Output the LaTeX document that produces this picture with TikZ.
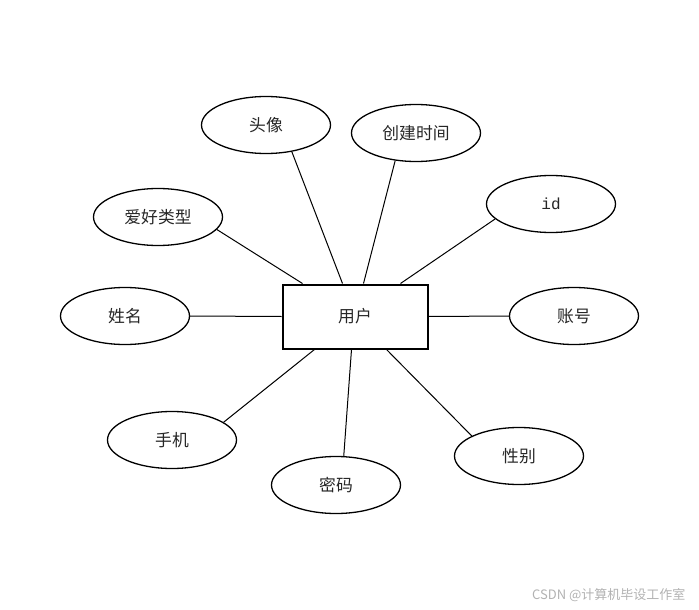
\documentclass[tikz,border=0pt]{standalone}
\usepackage{fontspec}
\newfontfamily\cjk{Noto Sans CJK SC}
\newfontfamily\monofont{Liberation Mono}
\usetikzlibrary{shapes.geometric,calc}
\begin{document}
\begin{tikzpicture}[x=1pt,y=-1pt,
        attr/.style={draw,ellipse,line width=1.3pt,minimum width=129pt,minimum height=57pt,inner sep=0pt,font=\cjk\fontsize{16.8}{18}\selectfont,text=black!85},
        entity/.style={draw,rectangle,line width=2pt,minimum width=145pt,minimum height=64pt,font=\cjk\fontsize{16.8}{18}\selectfont,text=black!85},
        link/.style={line width=1pt}]
        \useasboundingbox (0,0) rectangle (699,610);
        \node[entity] (user) at (355,316.5) {用户};
        \node[attr] (avatar) at (266,125) {头像};
        \node[attr] (ctime) at (416,133) {创建时间};
        \node[attr] (id) at (551,204) {\monofont\fontsize{16}{18}\selectfont id};
        \node[attr] (hobby) at (158,217) {爱好类型};
        \node[attr] (name) at (125,316) {姓名};
        \node[attr] (account) at (574,316) {账号};
        \node[attr] (phone) at (172,440) {手机};
        \node[attr] (gender) at (519,456) {性别};
        \node[attr] (pwd) at (336,485) {密码};
        % connectors to the entity
        \draw[link] (avatar.-46) -- ($(user.north west)+(61,0)$);
        \draw[link] (ctime.-127) -- ($(user.north west)+(82,0)$);
        \draw[link] (id.-165) -- ($(user.north west)+(119,0)$);
        \draw[link] (hobby.-12) -- ($(user.north west)+(21,0)$);
        \draw[link] (name.east) -- (user.west);
        \draw[link] (account.west) -- (user.east);
        \draw[link] (phone.19) -- ($(user.south west)+(33,0)$);
        \draw[link] (gender.157) -- ($(user.south west)+(105,0)$);
        \draw[link] (pwd.75) -- ($(user.south west)+(70,0)$);
        \node[anchor=east,text=black!30,font=\cjk\fontsize{13}{15}\selectfont] (mark) at (689,595) {CSDN @计算机毕设工作室};
\end{tikzpicture}
\end{document}
